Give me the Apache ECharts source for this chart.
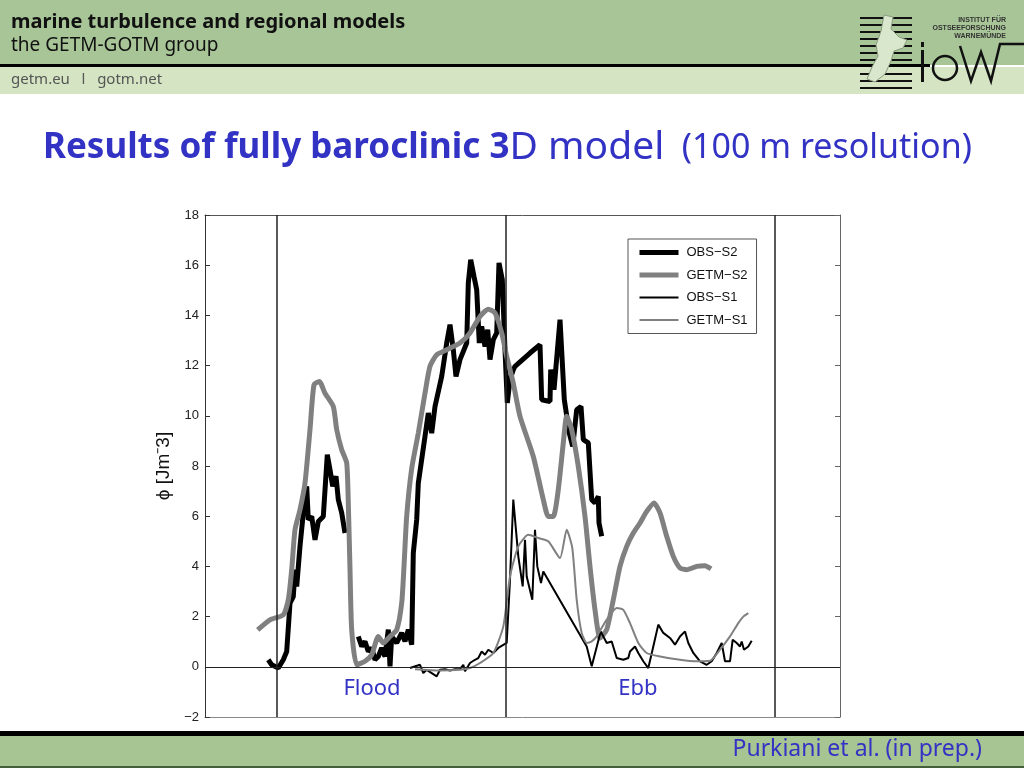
<!DOCTYPE html>
<html>
<head>
<meta charset="utf-8">
<script src="https://cdn.jsdelivr.net/npm/echarts@6/dist/echarts.min.js"></script>
<style>
  html, body { margin: 0; padding: 0; background: #fff; }
  #main { width: 1024px; height: 768px; }
</style>
</head>
<body>
<div id="main"></div>
<script>
// time along the record (arbitrary units) and energy values
// thick black: observations S2 (null = gap in the record)
const obsS2T = [6.33, 6.67, 7.33, 7.83, 8.17, 8.5, 8.83, 9.0, 9.17, 9.5, 9.83, 10.17, 10.33, 10.67, 11.0, 11.33, 11.83, 12.23, 12.5, 12.77, 13.1, 13.33, 13.67, 14.0,
  14.6,
  15.33, 15.67, 16.0, 16.33, 16.67, 17.0, 17.33, 17.67, 18.0, 18.33, 18.5, 18.67, 19.17, 19.67, 20.0, 20.33, 20.67, 20.83, 21.17, 21.33, 22.0, 22.33, 22.67, 23.0,
  23.67, 24.17, 24.5, 24.83, 25.1, 25.5, 26.17, 26.33, 26.57, 26.9, 27.17, 27.43, 27.67, 28.0, 28.27, 28.5, 28.83, 29.17, 29.4, 29.73, 30.0, 30.23, 30.5,
  30.83, 31.0, 32.5, 33.5, 33.67, 34.5, 34.57, 34.9, 35.5, 35.93, 36.43, 36.77, 37.17, 37.6, 37.83, 38.33, 38.67, 39.0, 39.33, 39.4, 39.67]
const obsS2Phi = [0.28, 0.08, -0.05, 0.28, 0.61, 2.54, 2.8, 3.87, 3.2, 4.8, 6.13, 7.19, 5.86, 5.99, 5.06, 5.79, 5.99, 8.45, 7.85, 7.19, 7.59, 6.66, 6.13, 5.33,
  null,
  1.21, 0.81, 1.01, 0.61, 0.75, 0.28, 0.41, 0.75, 0.41, 1.48, 0.02, 1.21, 0.95, 1.35, 1.01, 1.48, 0.88, 4.53, 5.86, 7.32, 9.18, 10.11, 9.31, 10.37,
  11.57, 12.9, 13.63, 12.63, 11.57, 12.24, 12.9, 15.29, 16.22, 15.55, 15.02, 12.9, 13.56, 12.76, 13.43, 12.24, 13.03, 13.3, 16.09, 15.42, 12.63, 10.51, 11.44,
  11.84, 11.97, 12.5, 12.83, 10.64, 10.57, 11.84, 11.04, 13.83, 10.64, 9.31, 8.78, 10.24, 10.37, 9.05, 8.92, 6.66, 6.53, 6.79, 5.73, 5.2]

// thick grey: model S2
const getmS2T = [5.27, 6.5, 7.83, 8.33, 8.67, 9.0, 9.5, 10.0, 10.5, 10.9, 11.43, 12.0, 12.83, 13.17, 13.67, 14.17, 14.33, 14.5, 14.67, 15.17, 16.0, 16.67,
  17.33, 17.83, 18.5, 19.17, 19.67, 19.9, 20.17, 20.67, 21.33, 22.0, 22.5, 23.17, 24.17, 25.5, 26.5, 27.5, 28.33, 29.0, 29.67, 30.17, 30.83, 31.5,
  32.83, 33.83, 34.33, 34.83, 35.33, 35.83, 36.17, 36.67, 37.33, 38.0, 38.5, 39.0, 39.5, 40.17, 40.83, 41.5, 42.17, 42.83, 43.5, 44.17, 44.9, 45.5,
  46.17, 46.83, 47.5, 48.17, 49.17, 50.0, 50.6]
const getmS2Phi = [1.47, 1.87, 2.07, 2.67, 3.87, 5.46, 6.26, 7.32, 9.45, 11.24, 11.37, 10.9, 10.37, 9.45, 8.65, 8.12, 6.53, 3.87, 1.47, 0.08, 0.22, 0.48,
  1.21, 0.95, 1.21, 1.47, 2.54, 4.0, 6.0, 7.9, 9.31, 10.9, 11.97, 12.43, 12.63, 12.9, 13.3, 13.96, 14.25, 14.1, 13.3, 12.37, 11.3, 9.98,
  8.38, 6.66, 5.99, 5.99, 7.06, 8.92, 9.98, 9.45, 7.98, 5.99, 4.0, 2.27, 1.15, 1.48, 2.67, 4.0, 4.8, 5.33, 5.73, 6.19, 6.53, 6.13,
  5.2, 4.4, 3.94, 3.87, 4.0, 4.03, 3.9]

// thin black: observations S1
const obsS1T = [20.5, 21.5, 21.83, 22.17, 22.67, 23.17, 23.5, 24.0, 24.5, 25.0, 25.5, 25.83, 26.0, 26.5, 27.0, 27.33, 27.67, 28.0, 28.33, 28.83, 29.33,
  30.17, 30.5, 30.83, 31.33, 31.77, 32.0, 32.17, 32.73, 33.0, 33.23, 33.6, 33.83, 38.17, 38.67, 39.57, 40.17, 40.67, 41.17, 41.83, 42.33, 42.5,
  43.0, 43.33, 43.83, 44.33, 44.83, 45.33, 45.83, 46.5, 47.0, 47.5, 48.0, 48.33, 48.83, 49.5, 50.17, 50.67, 51.17, 51.67, 52.0, 52.5, 52.77,
  53.17, 53.5, 53.67, 53.9, 54.33, 54.67]
const obsS1Phi = [-0.05, 0.08, -0.25, -0.12, -0.25, -0.38, -0.12, -0.1, -0.15, -0.1, -0.09, 0.08, -0.18, 0.15, 0.28, 0.35, 0.61, 0.48, 0.68, 0.55, 0.75,
  0.95, 3.47, 6.66, 4.4, 3.2, 5.06, 3.6, 2.67, 5.46, 4.0, 3.34, 3.8, 0.81, 0.02, 1.41, 0.95, 1.01, 0.35, 0.28, 0.35, 0.61,
  0.81, 0.55, 0.22, -0.05, 0.81, 1.68, 1.35, 1.15, 0.88, 1.21, 1.41, 0.95, 0.55, 0.22, 0.08, 0.22, 0.55, 0.95, 0.22, 0.22, 1.08,
  0.95, 0.81, 1.01, 0.68, 0.81, 1.04]

// thin grey: model S1
const getmS1T = [21.0, 23.5, 25.5, 26.5, 27.5, 28.83, 29.83, 30.5, 31.33, 32.33, 33.33, 34.33, 35.5, 36.17, 36.73, 37.17, 37.67, 38.17, 38.67, 39.17,
  40.17, 41.17, 41.83, 42.5, 43.33, 44.17, 45.5, 47.5, 49.17, 50.5, 51.5, 52.5, 53.33, 53.83, 54.33]
const getmS1Phi = [-0.1, -0.15, -0.12, -0.05, 0.15, 0.55, 1.61, 3.6, 4.8, 5.26, 5.13, 5.0, 4.33, 5.46, 4.73, 2.67, 1.35, 0.95, 1.01, 1.21,
  1.88, 2.34, 2.27, 1.74, 0.95, 0.55, 0.41, 0.28, 0.22, 0.24, 0.68, 1.21, 1.74, 2.0, 2.14]

// flood / ebb phase boundaries
const phaseLines = [7.2, 30.1, 57.0]
const seriesNames = ['OBS−S2', 'GETM−S2', 'OBS−S1', 'GETM−S1']

const pairs = (t, v) => t.map((x, i) => [x, v[i] === null ? '-' : v[i]])

const chart = echarts.init(document.getElementById('main'))

const blue = '#3232c4'
const axisFont = 'Liberation Sans'

// slide decoration: header bands, IOW logo, title, footer
const stripes = [17, 24, 31, 38, 45, 52, 59, 73, 80, 87].map((y) => ({
  type: 'rect', shape: { x: 860, y: y, width: 52, height: 2 }, style: { fill: '#111' }
}))
const graphics = [
  { type: 'rect', shape: { x: 0, y: 0, width: 1024, height: 65 }, style: { fill: '#a8c597' } },
  { type: 'rect', shape: { x: 0, y: 67, width: 1024, height: 27 }, style: { fill: '#d5e5c3' } },
  { type: 'rect', shape: { x: 0, y: 64, width: 930, height: 3 }, style: { fill: '#000' } },
  ...stripes,
  {
    type: 'polygon',
    shape: { points: [[884, 15], [893, 17], [891, 29], [899, 37], [907, 40], [903, 48], [894, 51], [891, 61], [885, 74], [875, 82], [867, 79], [872, 67], [878, 56], [876, 45], [881, 31]] },
    style: { fill: '#d9e7cc', stroke: '#8a9c80', lineWidth: 1 }
  },
  { type: 'rect', shape: { x: 921, y: 50, width: 3, height: 32 }, style: { fill: '#111' } },
  { type: 'rect', shape: { x: 921, y: 42, width: 3, height: 5 }, style: { fill: '#111' } },
  { type: 'circle', shape: { cx: 945, cy: 68, r: 12 }, style: { fill: 'none', stroke: '#111', lineWidth: 2.5 } },
  { type: 'polyline', shape: { points: [[960, 46], [971, 81], [981, 52], [991, 81], [1000, 44], [1024, 44]] }, style: { fill: 'none', stroke: '#111', lineWidth: 2.5 } },
  { type: 'text', x: 1006, y: 16, style: { text: 'INSTITUT FÜR\nOSTSEEFORSCHUNG\nWARNEMÜNDE', align: 'right', font: 'bold 7px "Liberation Sans"', lineHeight: 8, fill: '#333' } },
  { type: 'text', x: 11, y: 22, style: { text: 'marine turbulence and regional models', font: 'bold 20px "Noto Sans"', fill: '#111', verticalAlign: 'middle' } },
  { type: 'text', x: 11, y: 46, style: { text: 'the GETM-GOTM group', font: '19px "Noto Sans"', fill: '#111', verticalAlign: 'middle' } },
  { type: 'text', x: 11, y: 80, style: { text: 'getm.eu   l   gotm.net', font: '15px "Noto Sans"', fill: '#555', verticalAlign: 'middle' } },
  {
    type: 'text', x: 43, y: 148,
    style: {
      text: '{b|Results of fully baroclinic 3}{m|D model}{r|\u00a0\u00a0(100 m resolution)}',
      fill: blue,
      verticalAlign: 'middle',
      rich: {
        b: { font: 'bold 35px "Noto Sans"', fill: blue },
        m: { font: '39px "Noto Sans"', fill: blue },
        r: { font: '34px "Noto Sans"', fill: blue }
      }
    }
  },
  { type: 'text', x: 372, y: 689, style: { text: 'Flood', font: '22px "Noto Sans"', fill: blue, align: 'center', verticalAlign: 'middle' } },
  { type: 'text', x: 638, y: 689, style: { text: 'Ebb', font: '22px "Noto Sans"', fill: blue, align: 'center', verticalAlign: 'middle' } },
  { type: 'rect', shape: { x: 0, y: 731, width: 1024, height: 5 }, style: { fill: '#000' } },
  { type: 'rect', shape: { x: 0, y: 736, width: 1024, height: 32 }, style: { fill: '#a6c592' } },
  { type: 'rect', shape: { x: 0, y: 766, width: 1024, height: 2 }, style: { fill: '#44603a' } },
  { type: 'text', x: 982, y: 749, style: { text: 'Purkiani et al. (in prep.)', font: '23px "Noto Sans"', fill: blue, align: 'right', verticalAlign: 'middle' } }
]

const option = {
  animation: false,
  backgroundColor: '#fff',
  graphic: graphics,
  grid: { left: 205, right: 184, top: 215, bottom: 51 },
  legend: {
    orient: 'vertical',
    left: 628,
    top: 239,
    padding: [7, 9, 7, 9],
    itemGap: 9.5,
    itemWidth: 39,
    itemHeight: 14,
    borderColor: '#555',
    borderWidth: 1,
    backgroundColor: '#fff',
    itemStyle: { opacity: 0 },
    textStyle: { fontFamily: axisFont, fontSize: 13, color: '#111', padding: [0, 0, 0, 3] },
    data: [
      { name: seriesNames[0], lineStyle: { width: 5 } },
      { name: seriesNames[1], lineStyle: { width: 5 } },
      { name: seriesNames[2], lineStyle: { width: 2 } },
      { name: seriesNames[3], lineStyle: { width: 2 } }
    ]
  },
  xAxis: [
    {
      type: 'value', min: 0, max: 63.5, position: 'bottom',
      axisLine: { show: true, onZero: false, lineStyle: { color: '#888' } },
      axisTick: { show: false }, axisLabel: { show: false }, splitLine: { show: false }
    },
    {
      type: 'value', min: 0, max: 63.5, position: 'top',
      axisLine: { show: true, onZero: false, lineStyle: { color: '#555' } },
      axisTick: { show: false }, axisLabel: { show: false }, splitLine: { show: false }
    }
  ],
  yAxis: [
    {
      type: 'value', min: -2, max: 18, interval: 2, position: 'left',
      name: 'ϕ [Jm⁻3]', nameLocation: 'middle', nameGap: 31, nameRotate: 90,
      nameTextStyle: { fontFamily: axisFont, fontSize: 19, color: '#111' },
      axisLine: { show: true, onZero: false, lineStyle: { color: '#333' } },
      axisTick: { show: true, inside: true, length: 5, lineStyle: { color: '#333' } },
      axisLabel: {
        fontFamily: axisFont, fontSize: 13, color: '#222', margin: 6,
        formatter: (v) => (v < 0 ? '−' + -v : String(v))
      },
      splitLine: { show: false }
    },
    {
      type: 'value', min: -2, max: 18, interval: 2, position: 'right',
      axisLine: { show: true, onZero: false, lineStyle: { color: '#666' } },
      axisTick: { show: true, inside: true, length: 5, lineStyle: { color: '#666' } },
      axisLabel: { show: false }, splitLine: { show: false }
    }
  ],
  series: [
    {
      // phase boundaries and zero line
      type: 'line', name: 'phases', data: [], z: 1, silent: true,
      markLine: {
        silent: true, symbol: 'none', animation: false,
        label: { show: false },
        lineStyle: { color: '#222', width: 1.5, type: 'solid' },
        data: [...phaseLines.map((t) => ({ xAxis: t })), { yAxis: 0, lineStyle: { width: 1.2 } }]
      }
    },
    {
      type: 'line', name: seriesNames[0], data: pairs(obsS2T, obsS2Phi),
      symbol: 'none', lineStyle: { color: '#000', width: 5 }, itemStyle: { color: '#000' }
    },
    {
      type: 'line', name: seriesNames[1], data: pairs(getmS2T, getmS2Phi), smooth: 0.2,
      symbol: 'none', lineStyle: { color: '#808080', width: 5 }, itemStyle: { color: '#808080' }
    },
    {
      type: 'line', name: seriesNames[2], data: pairs(obsS1T, obsS1Phi),
      symbol: 'none', lineStyle: { color: '#000', width: 2 }, itemStyle: { color: '#000' }
    },
    {
      type: 'line', name: seriesNames[3], data: pairs(getmS1T, getmS1Phi), smooth: 0.2,
      symbol: 'none', lineStyle: { color: '#808080', width: 2 }, itemStyle: { color: '#808080' }
    }
  ]
}

chart.setOption(option)
</script>
</body>
</html>
